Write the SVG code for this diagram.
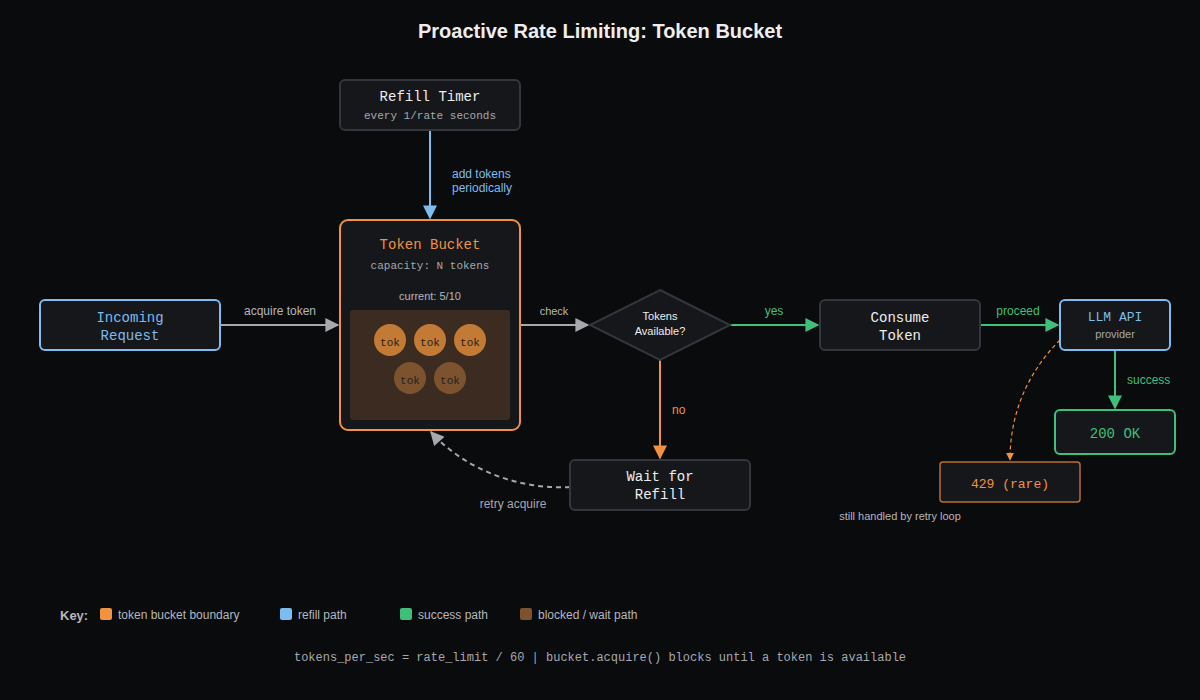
<svg xmlns="http://www.w3.org/2000/svg" width="1200" height="700" viewBox="0 0 1200 700">
<defs>
<style>
.m{font-family:"Liberation Mono","DejaVu Sans Mono",monospace}
.s{font-family:"Liberation Sans",Arial,sans-serif}
.box{fill:#15171b;stroke:#33363c;stroke-width:2}
</style>
<marker id="ag" viewBox="0 0 10 10" refX="9" refY="5" markerWidth="10" markerHeight="10" markerUnits="userSpaceOnUse" orient="auto"><path d="M0,0L10,5L0,10z" fill="#a6a8ad"/></marker>
<marker id="agb" viewBox="0 0 10 10" refX="9" refY="5" markerWidth="20" markerHeight="14" markerUnits="userSpaceOnUse" orient="auto"><path d="M0,0L10,5L0,10z" fill="#a6a8ad"/></marker>
<marker id="ab" viewBox="0 0 10 10" refX="9" refY="5" markerWidth="20" markerHeight="14" markerUnits="userSpaceOnUse" orient="auto"><path d="M0,0L10,5L0,10z" fill="#7cbcf0"/></marker>
<marker id="agr" viewBox="0 0 10 10" refX="9" refY="5" markerWidth="20" markerHeight="14" markerUnits="userSpaceOnUse" orient="auto"><path d="M0,0L10,5L0,10z" fill="#3fbf7a"/></marker>
<marker id="ao" viewBox="0 0 10 10" refX="9" refY="5" markerWidth="20" markerHeight="14" markerUnits="userSpaceOnUse" orient="auto"><path d="M0,0L10,5L0,10z" fill="#f0923f"/></marker>
<marker id="aos" viewBox="0 0 10 10" refX="9" refY="5" markerWidth="8" markerHeight="10" markerUnits="userSpaceOnUse" orient="auto"><path d="M0,0L10,5L0,10z" fill="#f0923f"/></marker>
</defs>
<rect width="1200" height="700" fill="#0a0b0d"/>
<text x="600" y="38" text-anchor="middle" class="s" font-size="20" font-weight="bold" fill="#eeeeee">Proactive Rate Limiting: Token Bucket</text>

<g id="connectors" fill="none" stroke-width="2">
<path d="M430,130V218" stroke="#7cbcf0" marker-end="url(#ab)"/>
<path d="M220,325H338" stroke="#a6a8ad" marker-end="url(#agb)"/>
<path d="M520,325H588" stroke="#a6a8ad" marker-end="url(#agb)"/>
<path d="M730,325H818" stroke="#3fbf7a" marker-end="url(#agr)"/>
<path d="M980,325H1058" stroke="#3fbf7a" marker-end="url(#agr)"/>
<path d="M1115,350V408" stroke="#3fbf7a" marker-end="url(#agr)"/>
<path d="M660,360V458" stroke="#f0923f" marker-end="url(#ao)"/>
<path d="M570,487C520,490 465,470 431,432" stroke="#a6a8ad" stroke-dasharray="5,4" marker-end="url(#agb)"/>
<path d="M1060,340C1030,370 1010,410 1010,460" stroke="#f0923f" stroke-width="1.2" stroke-dasharray="4,3" marker-end="url(#aos)"/>
</g>
<g class="s" font-size="12">
<text x="452" y="178" fill="#7cbcf0">add tokens</text>
<text x="452" y="192" fill="#7cbcf0">periodically</text>
<text x="280" y="315" text-anchor="middle" fill="#b5b7bb">acquire token</text>
<text x="554" y="315" text-anchor="middle" fill="#b5b7bb" font-size="11">check</text>
<text x="774" y="315" text-anchor="middle" fill="#3fbf7a">yes</text>
<text x="1018" y="315" text-anchor="middle" fill="#3fbf7a">proceed</text>
<text x="1127" y="384" fill="#3fbf7a">success</text>
<text x="672" y="414" fill="#f0923f">no</text>
<text x="513" y="508" text-anchor="middle" fill="#a6a8ad">retry acquire</text>
<text x="900" y="520" text-anchor="middle" fill="#b5b7bb" font-size="11">still handled by retry loop</text>
</g>

<g id="refill">
<rect x="340" y="80" width="180" height="50" rx="5" class="box"/>
<text x="430" y="101" text-anchor="middle" class="m" font-size="14" fill="#eeeeee">Refill Timer</text>
<text x="430" y="119" text-anchor="middle" class="m" font-size="11" fill="#a6a8ad">every 1/rate seconds</text>
</g>
<g id="bucket">
<rect x="340" y="220" width="180" height="210" rx="8" fill="#15171b" stroke="#f0923f" stroke-width="2"/>
<text x="430" y="249" text-anchor="middle" class="m" font-size="14" fill="#f0923f">Token Bucket</text>
<text x="430" y="269" text-anchor="middle" class="m" font-size="11" fill="#a6a8ad">capacity: N tokens</text>
<text x="430" y="300" text-anchor="middle" class="s" font-size="11" fill="#b5b7bb">current: 5/10</text>
<rect x="350" y="310" width="160" height="110" rx="3" fill="#3b2b20"/>
<g class="m" font-size="11" fill="#222" text-anchor="middle">
<circle cx="390" cy="340" r="16" fill="#c27a35"/><text x="390" y="346">tok</text>
<circle cx="430" cy="340" r="16" fill="#c27a35"/><text x="430" y="346">tok</text>
<circle cx="470" cy="340" r="16" fill="#c27a35"/><text x="470" y="346">tok</text>
<circle cx="410" cy="378" r="16" fill="#7d522e"/><text x="410" y="384">tok</text>
<circle cx="450" cy="378" r="16" fill="#7d522e"/><text x="450" y="384">tok</text>
</g>
</g>
<g id="incoming">
<rect x="40" y="300" width="180" height="50" rx="5" fill="#15171b" stroke="#7cbcf0" stroke-width="2"/>
<text x="130" y="322" text-anchor="middle" class="m" font-size="14" fill="#7cbcf0">Incoming</text>
<text x="130" y="340" text-anchor="middle" class="m" font-size="14" fill="#7cbcf0">Request</text>
</g>
<g id="decision">
<polygon points="660,290 730,325 660,360 590,325" fill="#15171b" stroke="#33363c" stroke-width="2"/>
<text x="660" y="320" text-anchor="middle" class="s" font-size="11" fill="#eeeeee">Tokens</text>
<text x="660" y="335" text-anchor="middle" class="s" font-size="11" fill="#eeeeee">Available?</text>
</g>
<g id="consume">
<rect x="820" y="300" width="160" height="50" rx="5" class="box"/>
<text x="900" y="322" text-anchor="middle" class="m" font-size="14" fill="#eeeeee">Consume</text>
<text x="900" y="340" text-anchor="middle" class="m" font-size="14" fill="#eeeeee">Token</text>
</g>
<g id="llm">
<rect x="1060" y="300" width="110" height="50" rx="5" fill="#15171b" stroke="#7cbcf0" stroke-width="2"/>
<text x="1115" y="321" text-anchor="middle" class="m" font-size="13" fill="#7cbcf0">LLM API</text>
<text x="1115" y="338" text-anchor="middle" class="s" font-size="11" fill="#a6a8ad">provider</text>
</g>
<g id="ok">
<rect x="1055" y="410" width="120" height="44" rx="5" fill="#15171b" stroke="#3fbf7a" stroke-width="2"/>
<text x="1115" y="438" text-anchor="middle" class="m" font-size="14" fill="#3fbf7a">200 OK</text>
</g>
<g id="r429">
<rect x="940" y="462" width="140" height="40" rx="3" fill="#15171b" stroke="#b86f30" stroke-width="1.5"/>
<text x="1010" y="488" text-anchor="middle" class="m" font-size="13" fill="#f0923f">429 (rare)</text>
</g>
<g id="wait">
<rect x="570" y="460" width="180" height="50" rx="5" class="box"/>
<text x="660" y="481" text-anchor="middle" class="m" font-size="14" fill="#eeeeee">Wait for</text>
<text x="660" y="499" text-anchor="middle" class="m" font-size="14" fill="#eeeeee">Refill</text>
</g>

<g id="legend" class="s" font-size="12" fill="#b5b7bb">
<text x="60" y="620" font-size="13" font-weight="bold">Key:</text>
<rect x="100" y="608" width="12" height="12" rx="2" fill="#f0923f"/><text x="118" y="619">token bucket boundary</text>
<rect x="280" y="608" width="12" height="12" rx="2" fill="#7cbcf0"/><text x="298" y="619">refill path</text>
<rect x="400" y="608" width="12" height="12" rx="2" fill="#3fbf7a"/><text x="418" y="619">success path</text>
<rect x="520" y="608" width="12" height="12" rx="2" fill="#7d522e"/><text x="538" y="619">blocked / wait path</text>
</g>
<text x="600" y="661" text-anchor="middle" class="m" font-size="12" fill="#a6a8ad">tokens_per_sec = rate_limit / 60 | bucket.acquire() blocks until a token is available</text>
</svg>
